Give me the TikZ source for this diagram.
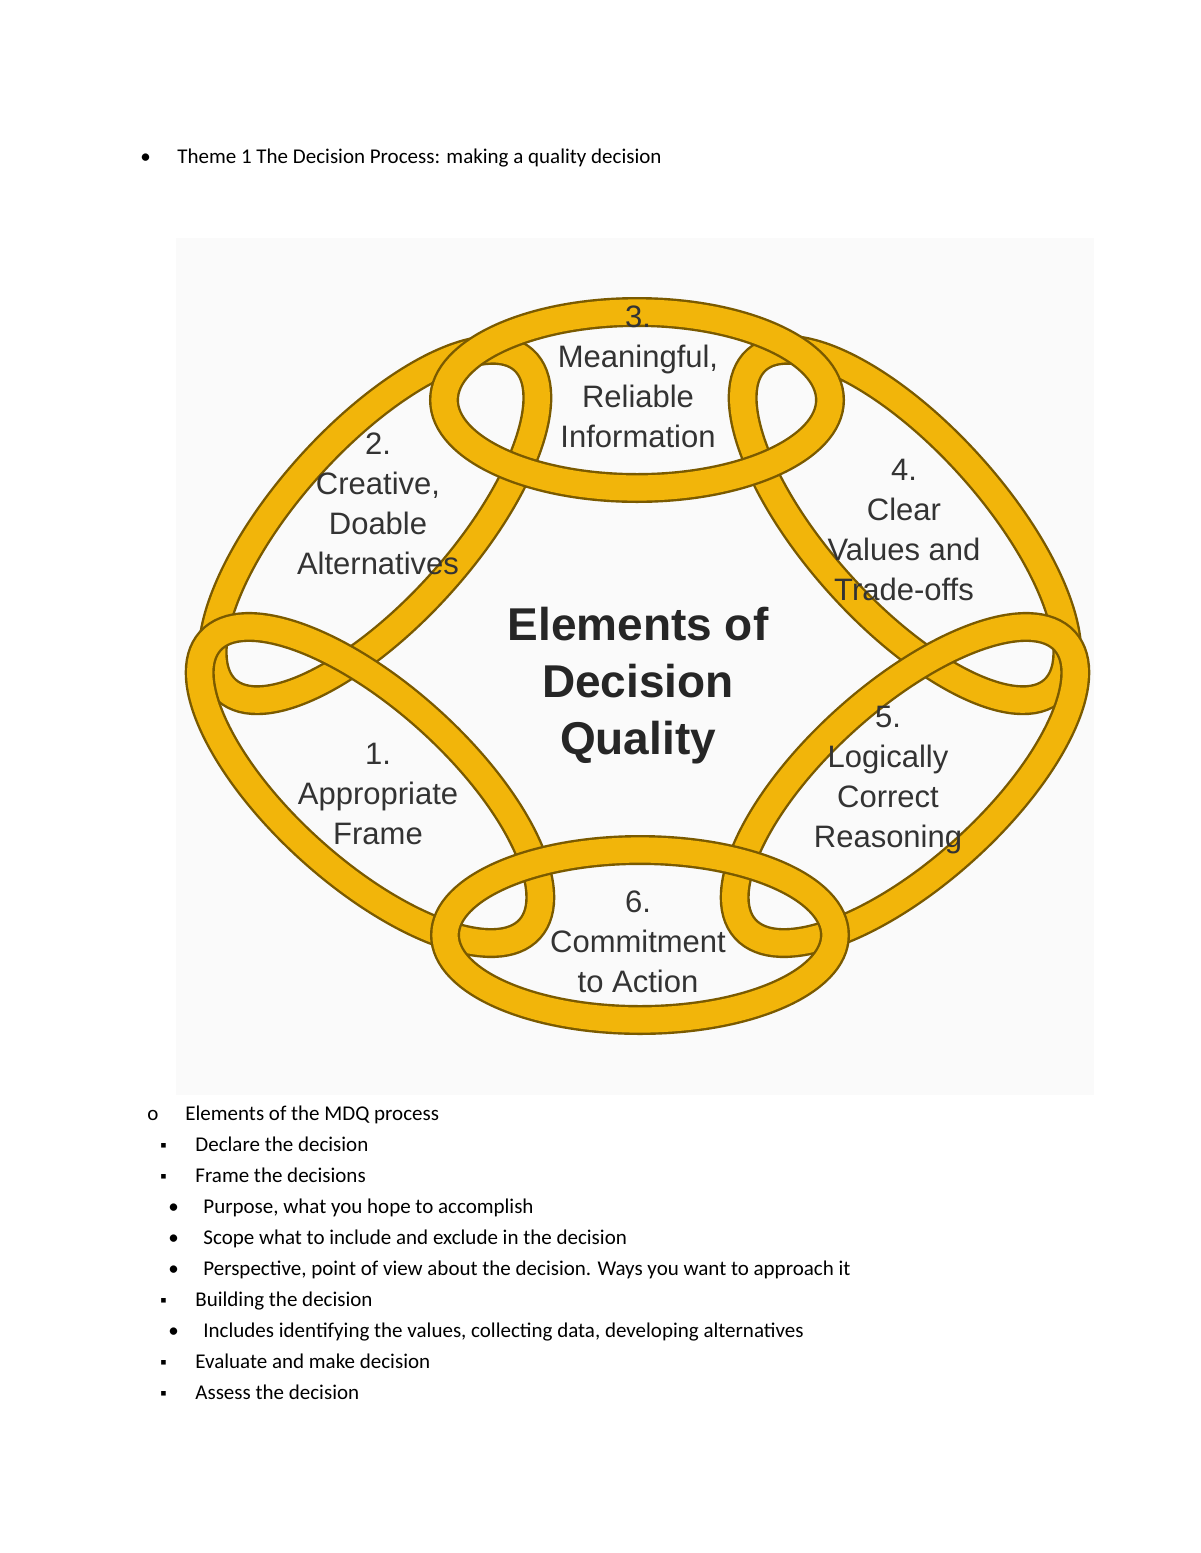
\documentclass[tikz,border=0pt]{standalone}
\usepackage{fontspec}
\setmainfont{Carlito}
\newfontfamily\arial{Liberation Sans}
\definecolor{gold}{HTML}{F2B50A}
\definecolor{edge}{HTML}{7A5A00}
\definecolor{txt}{HTML}{333333}
\begin{document}
\begin{tikzpicture}[x=0.5pt,y=-0.5pt,
  linkb/.style={line width=15pt,draw=edge},
  linkf/.style={line width=12.6pt,draw=gold},
  lab/.style={font=\arial\fontsize{15.5pt}{20pt}\selectfont,text=txt,align=center},
  doc/.style={font=\fontsize{10.5pt}{13pt}\selectfont,anchor=base west,inner sep=0}]
\useasboundingbox (0,0) rectangle (1200,1553);
\fill[white] (0,0) rectangle (1200,1553);
\fill[black!2] (176,238) rectangle (1094,1095);
\newcommand\lnk[4]{%
 \begin{scope}[shift={(#1)},rotate=#2]
  \draw[linkb] (0,0) ellipse [x radius=#3,y radius=#4];
  \draw[linkf] (0,0) ellipse [x radius=#3,y radius=#4];
 \end{scope}}
\lnk{375,525}{48}{222}{88}
\lnk{370,785}{-42}{215}{88}
\lnk{905,525}{-48}{222}{88}
\lnk{905,785}{42}{215}{88}
\lnk{637,400}{0}{193}{88}
\lnk{640,935}{0}{195}{85}
\node[lab] (t3) at (638,377) {3.\\Meaningful,\\Reliable\\Information};
\node[lab] (t2) at (378,504) {2.\\Creative,\\Doable\\Alternatives};
\node[lab] (t4) at (904,530) {4.\\Clear\\Values and\\Trade-offs};
\node[lab] (t1) at (378,794) {1.\\Appropriate\\Frame};
\node[lab] (t5) at (888,780) {5.\\Logically\\Correct\\Reasoning};
\node[lab] (t6) at (638,942) {6.\\Commitment\\to Action};
\node[font=\arial\bfseries\fontsize{23pt}{28.5pt}\selectfont,text=black!85,align=center] (tt) at (638,686) {Elements of\\Decision\\Quality};
\node[doc] (b0) at (140,163) {•};
\node[doc] (h) at (177,163) {Theme 1 The Decision Process: making a quality decision};
\node[doc] at (147,1120) {o};
\node[doc] at (185,1120) {Elements of the MDQ process};
\foreach \y/\t in {1151/Declare the decision,1182/Frame the decisions,1306/Building the decision,1368/Evaluate and make decision,1399/Assess the decision}{
  \node[doc] at (160,\y) {\small▪};
  \node[doc] at (195,\y) {\t};}
\foreach \y/\t in {1213/{Purpose, what you hope to accomplish},1244/Scope what to include and exclude in the decision,1275/{Perspective, point of view about the decision. Ways you want to approach it},1337/{Includes identifying the values, collecting data, developing alternatives}}{
  \node[doc] at (168,\y) {•};
  \node[doc] at (203,\y) {\t};}
\end{tikzpicture}
\end{document}
